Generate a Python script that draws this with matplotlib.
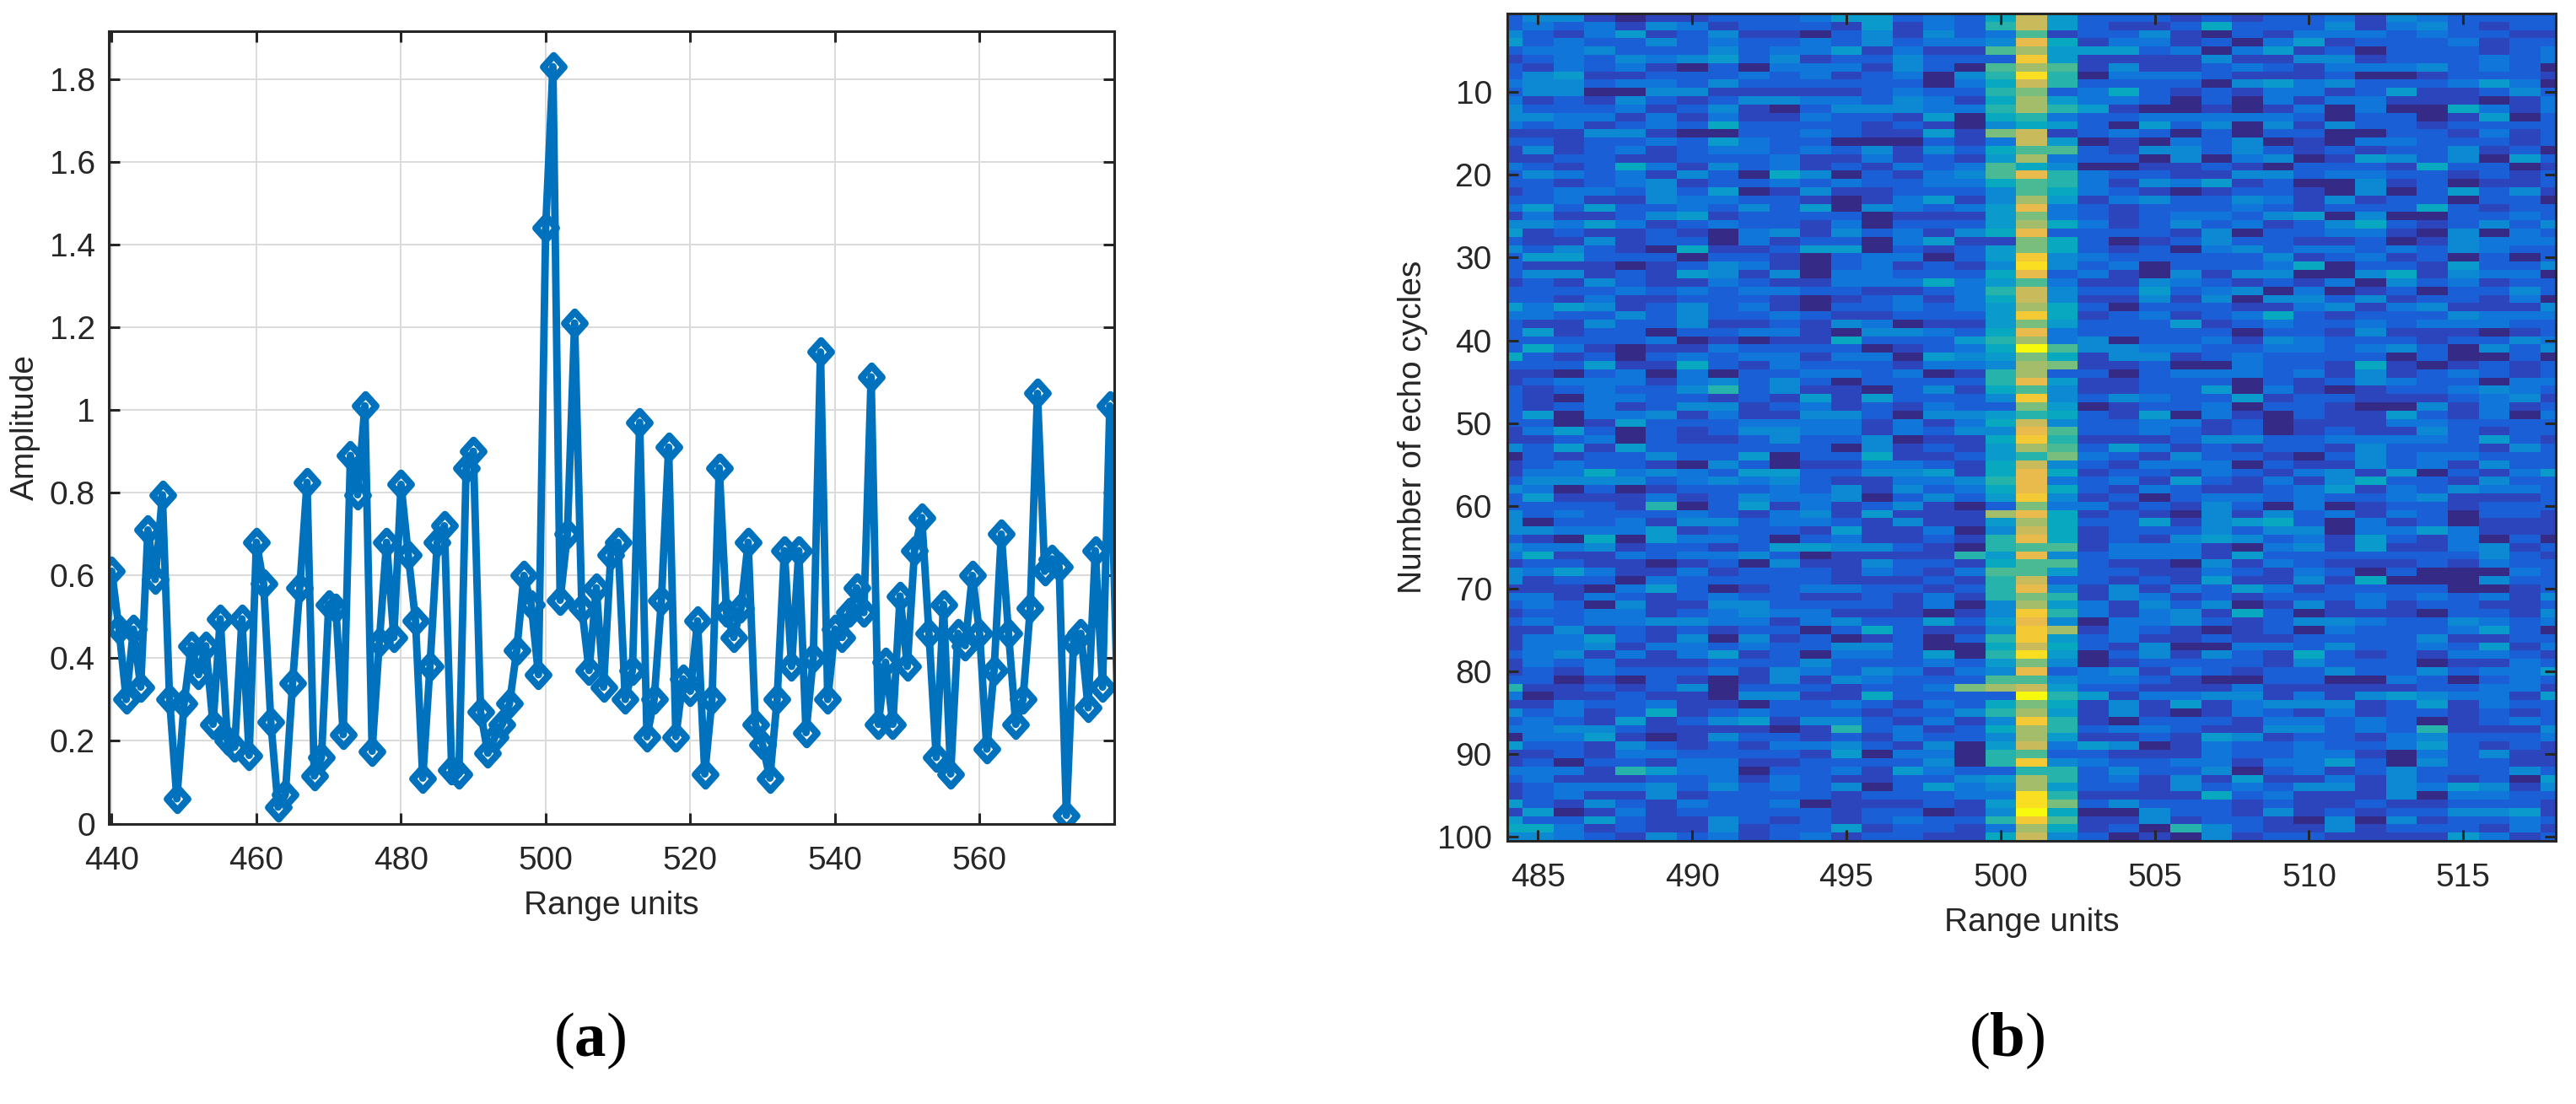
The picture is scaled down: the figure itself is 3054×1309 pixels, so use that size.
import numpy as np
import matplotlib
matplotlib.use("Agg")
import matplotlib.pyplot as plt
from matplotlib.path import Path
from matplotlib.colors import LinearSegmentedColormap
from matplotlib.ticker import FormatStrFormatter

plt.rcParams['font.family'] = ['Liberation Sans', 'DejaVu Sans']
plt.rcParams['mathtext.fontset'] = 'custom'
plt.rcParams['mathtext.rm'] = 'Liberation Serif'
plt.rcParams['mathtext.bf'] = 'Liberation Serif:bold'

# (a) amplitude of one echo, range units 439..579
range_units = np.arange(439, 580)
amplitude = [
    0.38, 0.61, 0.47, 0.30, 0.47, 0.33, 0.71, 0.59, 0.795, 0.30,   # 439-448
    0.06, 0.29, 0.43, 0.36, 0.43, 0.24, 0.495, 0.20, 0.185, 0.495,  # 449-458
    0.165, 0.68, 0.58, 0.245, 0.04, 0.07, 0.34, 0.57, 0.825, 0.115,  # 459-468
    0.16, 0.53, 0.52, 0.215, 0.89, 0.795, 1.01, 0.175, 0.44, 0.68,   # 469-478
    0.45, 0.82, 0.65, 0.49, 0.11, 0.38, 0.68, 0.72, 0.13, 0.12,      # 479-488
    0.86, 0.90, 0.27, 0.17, 0.21, 0.24, 0.29, 0.42, 0.60, 0.53,      # 489-498
    0.36, 1.44, 1.83, 0.54, 0.70, 1.21, 0.52, 0.37, 0.57, 0.33,      # 499-508
    0.65, 0.68, 0.30, 0.37, 0.97, 0.21, 0.30, 0.54, 0.91, 0.21,      # 509-518
    0.35, 0.32, 0.49, 0.12, 0.30, 0.86, 0.51, 0.45, 0.52, 0.68,      # 519-528
    0.24, 0.19, 0.11, 0.30, 0.66, 0.38, 0.66, 0.22, 0.40, 1.14,      # 529-538
    0.30, 0.47, 0.45, 0.51, 0.57, 0.51, 1.08, 0.24, 0.39, 0.24,      # 539-548
    0.55, 0.38, 0.66, 0.74, 0.46, 0.16, 0.53, 0.12, 0.46, 0.43,      # 549-558
    0.60, 0.46, 0.18, 0.37, 0.70, 0.46, 0.24, 0.30, 0.52, 1.04,      # 559-568
    0.61, 0.64, 0.62, 0.02, 0.44, 0.46, 0.28, 0.66, 0.33, 1.01,      # 569-578
    0.33,                                                            # 579
]
amp_xticks = [440, 460, 480, 500, 520, 540, 560]
amp_yticks = [0, 0.2, 0.4, 0.6, 0.8, 1.0, 1.2, 1.4, 1.6, 1.8]

# (b) echo cycles 1..100 x range units 484..518, hex level 0-F per cell
# each row: 484-499 | 500-502 | 503-518
cell_cols = np.arange(484, 519)
cell_rows = [
    "2441011222355232 6B5 2221212231432222",
    "2323143122215132 7B5 2112622241342122",
    "4213512411024142 381 2241021333232211",
    "5232242322324233 4C6 1331203512223122",
    "2334222423351311 8A5 5523035120222123",
    "1232434524122422 2D5 1111411441222323",
    "2132310203331420 8A8 1411232133342320",
    "2451122232312304 7E7 0333211120012221",
    "3442332422222203 6B7 2222045342223530",
    "2440044111112322 792 3621213312511242",
    "3121421244332431 6A5 3320203133111013",
    "4222312410244433 7A7 5100101303006313",
    "4433131311322150 673 2233333202201502",
    "3231232622221210 465 2052404142212222",
    "1114410022321151 9B1 2320202200221312",
    "2212232532200021 3B5 0103240103322212",
    "1412312332324142 688 2144242121224120",
    "1122112223113121 5A3 2204034015424052",
    "3212631423121323 864 0011210222162201",
    "2432314206402134 8C7 3221144233221212",
    "2212341223232233 687 3143512004120112",
    "1233242501411222 486 3210122104025241",
    "2231143322101351 4A5 1342243141220220",
    "3525223242504323 5C3 2122232122262122",
    "1311245122220111 593 2123324504002232",
    "4435312322130222 5A6 3124231246212424",
    "5121121034142314 6C2 2221402233104032",
    "2114122031220351 196 2012422112014333",
    "4242106112550212 596 2120342332324322",
    "2552220221023302 5D4 3222224123120202",
    "2111012431023121 4E4 2302223602215224",
    "2441215414033222 6C2 3104144004614330",
    "1214211321133363 583 1143212130423122",
    "2222323233221123 7B4 2252340301202242",
    "2213112221012313 6B4 1141404424122130",
    "5354124231022323 5A6 2022211341341114",
    "3322424223211222 5D6 1231236212224333",
    "2114224112143011 595 2225123223233322",
    "2512202233104432 6C3 2222202214111012",
    "2222230101162225 7A3 4022314322212243",
    "2631011322220123 6F8 4433223323420424",
    "6212023233133054 596 1441232222020020",
    "2225116213222133 4A9 1120032216101212",
    "1102303022332301 7A2 2023332314123212",
    "1233313424202222 7C5 1122202124322033",
    "2123224724110241 684 1122503101223432",
    "2103322121515222 4D4 2432251221112341",
    "2123124412312132 295 0122302210041312",
    "2503341311442044 576 2150310211521303",
    "2201522233331313 6B4 2233120111332222",
    "1352021244331324 4C8 2232120121142122",
    "1123021124224011 6D7 1112442233332521",
    "4251522222204121 5A8 2531212214222142",
    "0212242250226112 579 3214221024233222",
    "1232210420113321 6B4 2133302114231422",
    "1336343255224451 6C6 1221321341502135",
    "2444423434211334 7C3 2315213146221422",
    "4302012223241423 6C6 2132112351324332",
    "2511131243340242 5D4 1202332322341112",
    "2222170251312410 293 3121420301221222",
    "4232223213415111 AC6 1210414231320221",
    "4022314423321411 5A6 2251456203120111",
    "4433351222151130 4B6 1222424403353111",
    "2106053320231121 7C6 1214542315213020",
    "4334122125544210 788 1333103415113412",
    "3611323342011117 5C4 2333152222222421",
    "1221101204114221 688 2110413211121322",
    "4353113122213213 885 2211321320200032",
    "4122032222211121 7B2 2121511416000422",
    "1110352012332212 7C4 1413253122220012",
    "3313212322112131 797 1431212223232314",
    "2320411442222130 4A5 3142401413122112",
    "1223312343311101 4D7 3134162011102214",
    "2323344331342252 5C4 0334212443224323",
    "1141212122026211 4DA 1321012032223520",
    "1335214041201202 7D5 2311211222241122",
    "1334133232244200 6B6 2140033242232513",
    "2341313512033250 7E5 0241421621213321",
    "1323111222422232 594 0122221422201132",
    "1213222314324313 4C2 3413212242242335",
    "2201021014143222 884 3321002200320232",
    "7112124022212239 AB5 2211131111122331",
    "3011211044116222 2F7 5133441314543315",
    "1132231102232132 696 1415134441251322",
    "4231261232221224 7A5 1410132131221212",
    "2321512451442131 4D7 1022213323201232",
    "3344211110172312 6A7 2332114423271114",
    "0335101422121322 4A5 1121541221342223",
    "5221421213342140 5B3 5401322322352121",
    "1121332222150330 782 2111322331032411",
    "1202213311222240 7D4 3223313352042211",
    "3331753302231532 277 2422402312422242",
    "2311122313211224 5A7 2314151131421205",
    "1233342423240253 4A5 2214232441435414",
    "1231141222212223 3E7 1111623111403322",
    "5214213223011121 5E9 2422212112112221",
    "1501312222212201 4F6 0042214121224451",
    "5225211421212322 7D8 1141221040412232",
    "6631211412251221 3A6 1207421141222131",
    "4432142312312211 6B4 2010412211115312",
]
echo_xticks = [485, 490, 495, 500, 505, 510, 515]
echo_yticks = [10, 20, 30, 40, 50, 60, 70, 80, 90, 100]

echo_levels = np.array([[int(c, 16) for c in row.replace(" ", "")]
                        for row in cell_rows], dtype=float)

# parula-like colormap
parula = LinearSegmentedColormap.from_list("parula", [
    (0 / 63, (0.2081, 0.1663, 0.5292)),
    (3 / 63, (0.2081, 0.2386, 0.6771)),
    (6 / 63, (0.1253, 0.3242, 0.8303)),
    (13 / 63, (0.0629, 0.4737, 0.8554)),
    (19 / 63, (0.0488, 0.5772, 0.8228)),
    (25 / 63, (0.0267, 0.6642, 0.7607)),
    (32 / 63, (0.2178, 0.7250, 0.6193)),
    (38 / 63, (0.4871, 0.7491, 0.4840)),
    (44 / 63, (0.7184, 0.7411, 0.3905)),
    (50 / 63, (0.9139, 0.7258, 0.3063)),
    (57 / 63, (0.9788, 0.8271, 0.1633)),
    (63 / 63, (0.9763, 0.9831, 0.0538)),
])

axcol = (0.15, 0.15, 0.15)
blue = '#0072BD'
diamond = Path([(0, 1), (0.9, 0), (0, -1), (-0.9, 0), (0, 1)],
               [Path.MOVETO, Path.LINETO, Path.LINETO, Path.LINETO, Path.CLOSEPOLY])

fig = plt.figure(figsize=(15.27, 6.545), dpi=200)

def style_axes(ax):
    for s in ax.spines.values():
        s.set_color(axcol)
        s.set_linewidth(1.1)
    ax.tick_params(direction='in', length=4.8, width=1.1, color=axcol,
                   top=True, right=True, labelsize=14, labelcolor=axcol)
    ax.tick_params(axis='x', pad=9.5)
    ax.tick_params(axis='y', pad=6)

# ---- (a) ----
ax1 = fig.add_axes([0.0424, 0.254, 0.3901, 0.7175])
# the first and last samples lie outside the x limits: line only, no marker
ax1.plot(range_units, amplitude, color=blue, lw=3.2, marker=diamond,
         markevery=slice(1, len(amplitude) - 1),
         ms=9.8, mew=3.0, mfc='none', mec=blue)
ax1.set_xlim(439.65, 578.6)
ax1.set_ylim(0, 1.915)
ax1.set_xticks(amp_xticks)
ax1.set_yticks(amp_yticks)
ax1.yaxis.set_major_formatter(FormatStrFormatter('%g'))
ax1.grid(True, color=(0.86, 0.86, 0.86), lw=0.7)
ax1.set_axisbelow(True)
style_axes(ax1)
ax1.set_xlabel("Range units", fontsize=14, color=axcol, labelpad=6)
ax1.set_ylabel("Amplitude", fontsize=14, color=axcol, labelpad=4)

# ---- (b) ----
ax2 = fig.add_axes([0.5851, 0.2383, 0.4070, 0.7494])
ax2.imshow(echo_levels, cmap=parula, vmin=0, vmax=15, aspect='auto',
           interpolation='nearest',
           extent=[cell_cols[0] - 0.5, cell_cols[-1] + 0.5, 100.5, 0.5])
ax2.set_xlim(484, 518)
ax2.set_ylim(100.5, 0.5)
ax2.set_xticks(echo_xticks)
ax2.set_yticks(echo_yticks)
style_axes(ax2)
ax2.tick_params(axis='y', pad=6.5)
ax2.set_xlabel("Range units", fontsize=14, color=axcol, labelpad=6)
ax2.set_ylabel("Number of echo cycles", fontsize=14, color=axcol, labelpad=4)

fig.text(0.2289, 0.057, r'($\mathbf{a}$)', fontsize=27, ha='center', va='center',
         family='Liberation Serif')
fig.text(0.779, 0.057, r'($\mathbf{b}$)', fontsize=27, ha='center', va='center',
         family='Liberation Serif')

fig.savefig("out.png", dpi=200)
